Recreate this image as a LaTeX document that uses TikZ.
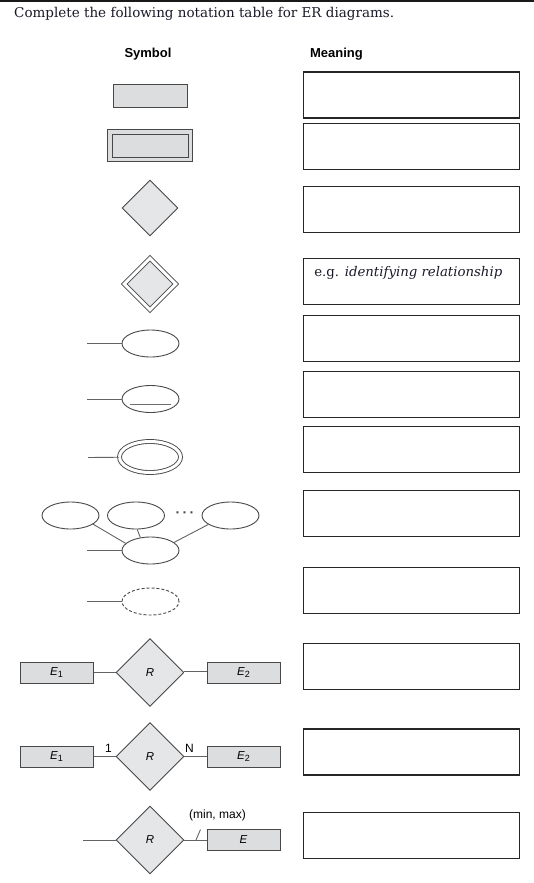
\documentclass[tikz,border=0pt]{standalone}
\usepackage{fontspec}
\setmainfont{DejaVu Serif}
\setsansfont{Liberation Sans}
\usepackage{tikz}
\usetikzlibrary{shapes.geometric,positioning}
\definecolor{erfill}{RGB}{219,221,222}
\definecolor{relfill}{RGB}{229,230,232}
\definecolor{erline}{RGB}{72,72,72}
\definecolor{titleink}{RGB}{25,25,40}
\newcommand{\entname}[2]{\textit{#1}\raisebox{-2.5pt}{\fontsize{9}{9}\selectfont #2}}
\tikzset{
  erent/.style={rectangle, draw=erline, fill=erfill, line width=1pt,
                minimum width=73pt, minimum height=21pt, inner sep=0pt,
                font=\sffamily\fontsize{11.5}{13}\selectfont},
  errel/.style={diamond, draw=erline, fill=relfill, line width=0.9pt,
                minimum width=68pt, minimum height=68pt, inner sep=0pt,
                font=\sffamily\itshape\fontsize{11.5}{13}\selectfont},
  erattr/.style={ellipse, draw=erline, line width=0.9pt,
                 minimum width=57pt, minimum height=27pt, inner sep=0pt},
  erlink/.style={draw=erline!85, line width=0.9pt},
  ansbox/.style={rectangle, draw=black!85, line width=1.3pt,
                 minimum width=216pt, minimum height=46pt, inner sep=0pt},
  head/.style={font=\sffamily\bfseries\fontsize{13}{15}\selectfont},
  card/.style={font=\sffamily\fontsize{12}{14}\selectfont, inner sep=0pt}
}

\begin{document}
\begin{tikzpicture}[x=1pt, y=-1pt]
  \useasboundingbox (0,0) rectangle (534,883);
  \fill[black!90] (0,0) rectangle (534,2.5);
  \node[anchor=base west, inner sep=0pt, text=titleink,
        font=\fontsize{13.5}{17}\selectfont] (title) at (14,18)
        {Complete the following notation table for ER diagrams.};
  \node[head] (symhead) at (148,54) {Symbol};
  \node[head] (meanhead) at (336.5,54) {Meaning};

  \node[ansbox] (m1) at (411.75,95) {};
  \node[ansbox] (m2) at (411.75,146.5) {};
  \node[ansbox] (m3) at (411.75,209.5) {};
  \node[ansbox] (m4) at (411.75,281.5) {};
  \node[ansbox] (m5) at (411.75,338.5) {};
  \node[ansbox] (m6) at (411.75,394.5) {};
  \node[ansbox] (m7) at (411.75,449.5) {};
  \node[ansbox] (m8) at (411.75,513.5) {};
  \node[ansbox] (m9) at (411.75,590.5) {};
  \node[ansbox] (m10) at (411.75,666.5) {};
  \node[ansbox] (m11) at (411.75,752) {};
  \node[ansbox] (m12) at (411.75,835.5) {};
  \node[anchor=west, inner sep=0pt, text=titleink,
        font=\fontsize{13.3}{16}\selectfont] (hint)
        at ([xshift=11pt,yshift=-15pt]m4.north west)
        {e.g. \textit{identifying relationship}};

  \node[erent, minimum width=74pt, minimum height=23pt] (ent) at (150,95.5) {};
  \node[erent, double=erfill, double distance=3.5pt,
        minimum width=80.5pt, minimum height=27.5pt] (weak) at (150,145.5) {};
  \node[errel, minimum width=56pt, minimum height=56pt] (rel) at (150,208) {};
  \node[errel, double=white, double distance=3pt,
        minimum width=52pt, minimum height=52pt] (idrel) at (150,284) {};

  \coordinate (foot1) at (87,343.5);
  \node[erattr] (attr) at (150.5,343.5) {};
  \draw[erlink] (foot1) -- (attr);
  \coordinate (foot2) at (87,399);
  \node[erattr] (key) at (150.5,399) {};
  \draw[erlink] (foot2) -- (key);
  \draw[erline!80, line width=0.9pt] ([xshift=-21pt,yshift=-5pt]key.center) -- ++(41,0);
  \coordinate (foot3) at (88,457.5);
  \node[erattr, double=white, double distance=3pt,
        minimum width=61pt, minimum height=31pt] (multi) at (150,457) {};
  \draw[erlink] (foot3) -- (multi);

  \node[erattr] (part1) at (70.5,515.5) {};
  \node[erattr] (part2) at (136,515.5) {};
  \node[erattr] (partn) at (230.5,515.5) {};
  \node[text=erline, inner sep=0pt, font=\sffamily\bfseries\fontsize{14}{14}\selectfont]
        (dots) at (185,515) {\textperiodcentered\,\textperiodcentered\,\textperiodcentered};
  \coordinate (foot4) at (87,550.5);
  \node[erattr] (comp) at (150.5,550.5) {};
  \draw[erlink] (foot4) -- (comp);
  \draw[erlink] (part1.-21) -- (comp.164);
  \draw[erlink] (part2.-85) -- (comp.128);
  \draw[erlink] (partn.202) -- (comp.19);

  \coordinate (foot5) at (87,601.5);
  \node[erattr, dashed, dash pattern=on 3pt off 2pt] (derived) at (150.5,601.5) {};
  \draw[erlink] (foot5) -- (derived);

  \node[erent] (e11) at (56.5,672.5) {\entname{E}{1}};
  \node[errel] (r1) at (150,672.5) {R};
  \node[erent] (e12) at (243.5,672.5) {\entname{E}{2}};
  \draw[erlink] (e11) -- (r1);
  \draw[erlink, double=white, double distance=2pt, line width=0.7pt] (r1) -- (e12);

  \node[erent] (e21) at (56.5,756.5) {\entname{E}{1}};
  \node[errel] (r2) at (150,756.5) {R};
  \node[erent] (e22) at (243.5,756.5) {\entname{E}{2}};
  \draw[erlink] (e21) -- (r2);
  \draw[erlink] (r2) -- (e22);
  \node[card] (one) at (108.5,748) {1};
  \node[card] (many) at (189.5,748) {N};

  \coordinate (foot6) at (83,840);
  \node[errel] (r3) at (150,840) {R};
  \node[erent] (e3) at (243.5,840) {\textit{E}};
  \draw[erlink] (foot6) -- (r3);
  \draw[erlink] (r3) -- (e3);
  \node[card] (minmax) at (217.5,815) {(min, max)};
  \coordinate (tick) at (196,840);
  \coordinate (ticktop) at (200.5,829.5);
  \draw[erlink] (tick) -- (ticktop);
\end{tikzpicture}
\end{document}
